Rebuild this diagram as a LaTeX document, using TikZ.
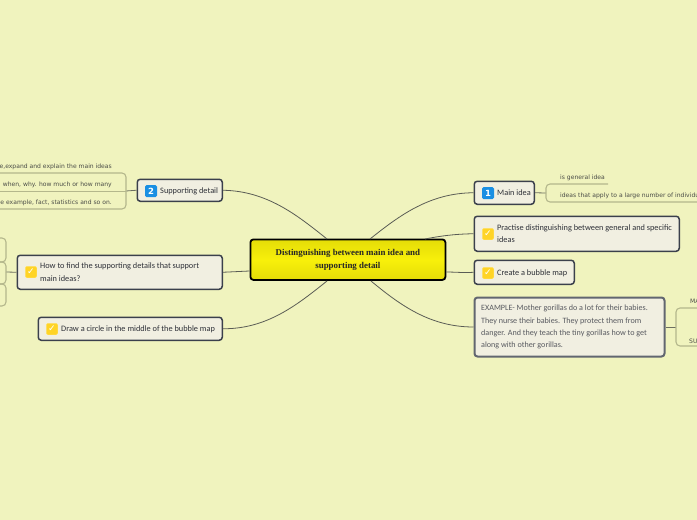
\documentclass[tikz,border=0pt]{standalone}
\usepackage{fontspec}
\setmainfont{Carlito}
\newfontfamily\smallfont{DejaVu Sans}
\newfontfamily\titlefont{Liberation Serif}
\usetikzlibrary{calc}
\definecolor{pagebg}{HTML}{F0F3BE}
\definecolor{boxfill}{HTML}{F1EFE1}
\definecolor{boxline}{HTML}{3B404C}
\definecolor{linkc}{HTML}{5A5C55}
\definecolor{brack}{HTML}{B4B78C}
\definecolor{txt}{HTML}{2E3038}
\definecolor{yel}{HTML}{FFD426}
\definecolor{blu}{HTML}{1A8FE3}
\definecolor{hubmid}{HTML}{F8F00A}
\definecolor{hubedge}{HTML}{E4DC08}
\tikzset{
 x=1pt,y=-1pt,
 topicbox/.style={draw=boxline,line width=1.5pt,fill=boxfill,rounded corners=3pt,inner sep=0,anchor=north west,minimum width=#1},
 handtxt/.style={font=\fontsize{8.3}{12.4}\selectfont,text=txt,align=left,anchor=west,inner sep=0},
 smalltxt/.style={font=\smallfont\fontsize{6.05}{7}\selectfont,text=linkc!85!black,inner sep=0},
 checkicon/.style={fill=yel,draw=yel!70!white,line width=.4pt,rounded corners=1.5pt,minimum size=11.5pt,inner sep=0,text=white,font=\smallfont\bfseries\fontsize{9}{9}\selectfont},
 numicon/.style={fill=blu,rounded corners=1.5pt,minimum size=12pt,inner sep=0,text=white,font=\smallfont\bfseries\fontsize{8.5}{8.5}\selectfont},
 linkline/.style={draw=linkc,line width=.8pt},
 brackline/.style={draw=brack,line width=1.1pt,rounded corners=4pt},
}
\begin{document}
\begin{tikzpicture}
\useasboundingbox (0,0) rectangle (697,520);
\clip (0,0) rectangle (697,520);
\fill[pagebg] (0,0) rectangle (697,520);

% boxes
\node[topicbox=195pt,minimum height=40.5pt,draw=black,line width=1.8pt,top color=hubedge,bottom color=hubedge,middle color=hubmid,
  font=\titlefont\bfseries\fontsize{8.9}{13.2}\selectfont,align=center,text=black!85] (hub) at (249.5,238.5) {Distinguishing between main idea and\\supporting detail};
\node[topicbox=60pt,minimum height=23pt] (mainb) at (473.5,180.5) {};
\node[topicbox=205pt,minimum height=35pt] (pract) at (473.5,215.5) {};
\node[topicbox=100pt,minimum height=24pt] (create) at (473.5,259.5) {};
\node[topicbox=190pt,minimum height=59pt,line width=2pt,draw=boxline!80!white] (exa) at (473.5,296.5) {};
\node[topicbox=85pt,minimum height=22pt] (supp) at (136.5,178.5) {};
\node[topicbox=205pt,minimum height=34pt] (how) at (16.5,254.5) {};
\node[topicbox=184pt,minimum height=23pt] (circ) at (37.5,316.5) {};

% attachment points on the hub
\coordinate (hubA) at (370,239);
\coordinate (hubB) at (327,239);
\coordinate (hubC) at (371,281);
\coordinate (hubD) at (327,281);
\coordinate (hubE) at (425,239);

% main connectors
\draw[linkline] (hubA) .. controls (400,215) and (430,193) .. (mainb.west);
\draw[linkline] (hubE) .. controls (440,236) and (455,234) .. (pract.west);
\draw[linkline] (hub.east |- 0,272) .. controls (455,272) and (465,273) .. (create.west);
\draw[linkline] (hubC) .. controls (400,305) and (430,327) .. (exa.west);
\draw[linkline] (hubB) .. controls (297,215) and (267,191) .. (supp.east);
\draw[linkline] (hub.west |- 0,271) -- (how.east);
\draw[linkline] (hubD) .. controls (297,305) and (267,329) .. (circ.east);

% bracket coordinates
\coordinate (brR) at (546,193);
\coordinate (brL) at (126,191);
\coordinate (brH) at (6,272);
\coordinate (brE) at (676,327);

% sub-branch brackets
\draw[linkline,draw=linkc!80!brack] (mainb.east) -- (brR);
\draw[linkline,draw=linkc!80!brack] (supp.west) -- (brL);
\draw[linkline,draw=linkc!80!brack] (how.west) -- (brH);
\draw[linkline,draw=linkc!80!brack] (exa.east) -- (brE);

\draw[brackline] (608,184) -- (546,184) -- (546,202) -- (700,202);
\draw[brackline] (-5,173) -- (126,173) -- (126,209) -- (-5,209);
\draw[brack,line width=.8pt] (-5,191) -- (brL);
\draw[brackline] (-5,238) -- (6,238) -- (6,262) -- (-5,262);
\draw[brackline] (-5,262) -- (6,262) -- (6,284) -- (-5,284);
\draw[brackline] (-5,284) -- (6,284) -- (6,306) -- (-5,306);
\draw[brackline] (700,308) -- (676,308) -- (676,346) -- (700,346);

% small leaves
\node[smalltxt,anchor=east] (l1) at (112,167) {e,expand and explain the main ideas};
\node[smalltxt,anchor=east] (l2) at (112,185) {when, why. how much or how many};
\node[smalltxt,anchor=east] (l3) at (112,203) {e example, fact, statistics and so on.};
\node[smalltxt,anchor=west] (r1) at (560,178) {is general idea};
\node[smalltxt,anchor=west] (r2) at (560,196) {ideas that apply to a large number of individu};
\node[smalltxt,anchor=west] (r3) at (690,301.5) {MA};
\node[smalltxt,anchor=west] (r4) at (689,341) {SU};

% icons
\node[numicon] (i1) at (488,193) {1};
\node[checkicon] (i3) at (488,234) {✓};
\node[checkicon] (i4) at (488,273) {✓};
\node[numicon] (i2) at (151,191) {2};
\node[checkicon] (i5) at (31,272) {✓};
\node[checkicon] (i6) at (52,329) {✓};

% box texts
\node[handtxt] (t1) at (497,193) {Main idea};
\node[handtxt] (t2) at (497,233.5) {Practise distinguishing between general and specific\\ideas};
\node[handtxt] (t3) at (497,273) {Create a bubble map};
\node[handtxt,font=\fontsize{8.1}{12.1}\selectfont,text=txt!80!white] (t4) at (481,327) {EXAMPLE- Mother gorillas do a lot for their babies.\\They nurse their babies. They protect them from\\danger. And they teach the tiny gorillas how to get\\along with other gorillas.};
\node[handtxt] (t5) at (160,191) {Supporting detail};
\node[handtxt] (t6) at (40,272) {How to find the supporting details that support\\main ideas?};
\node[handtxt] (t7) at (61,329) {Draw a circle in the middle of the bubble map};
\end{tikzpicture}
\end{document}
